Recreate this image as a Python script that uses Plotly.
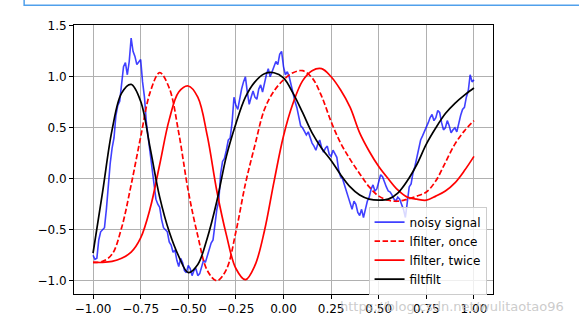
import plotly.graph_objects as go

# x positions for smooth curves (step 0.05) and noisy signal (step 0.01)
t_smooth = [round(-1 + 0.05 * i, 2) for i in range(41)]
t_noisy = [round(-1 + 0.01 * i, 2) for i in range(201)]

noisy = [-0.75, -0.79, -0.78, -0.60, -0.52, -0.50, -0.48, -0.30, -0.05, 0.15,
         0.30, 0.40, 0.62, 0.72, 0.76, 0.95, 1.10, 1.14, 1.02, 1.15,
         1.38, 1.25, 1.20, 1.12, 1.15, 1.17, 0.95, 0.80, 0.55, 0.40,
         0.25, 0.05, -0.10, -0.20, -0.25, -0.28, -0.40, -0.48, -0.50, -0.52,
         -0.62, -0.65, -0.72, -0.70, -0.80, -0.86, -0.78, -0.82, -0.90, -0.92,
         -0.85, -0.88, -0.95, -0.90, -0.88, -0.95, -0.93, -0.85, -0.80, -0.82,
         -0.75, -0.70, -0.63, -0.60, -0.45, -0.30, -0.22, 0.05, 0.17, 0.20,
         0.28, 0.38, 0.40, 0.55, 0.80, 0.72, 0.68, 0.80, 0.88, 0.95,
         1.00, 0.85, 0.73, 0.80, 0.86, 0.80, 0.78, 0.88, 0.92, 0.85,
         0.95, 1.02, 1.08, 1.00, 1.05, 1.10, 1.15, 1.12, 1.22, 1.25,
         1.10, 1.02, 1.05, 1.00, 0.92, 0.82, 0.76, 0.70, 0.60, 0.52,
         0.50, 0.46, 0.43, 0.46, 0.40, 0.35, 0.32, 0.28, 0.34, 0.38,
         0.31, 0.26, 0.30, 0.32, 0.24, 0.22, 0.28, 0.25, 0.21, 0.08,
         0.02, 0.00, -0.05, -0.12, -0.18, -0.25, -0.30, -0.22, -0.25, -0.33,
         -0.36, -0.30, -0.38, -0.30, -0.22, -0.18, -0.10, -0.06, -0.12, -0.10,
         -0.02, 0.04, 0.02, -0.04, -0.08, -0.12, -0.13, -0.16, -0.20, -0.22,
         -0.18, -0.20, -0.25, -0.30, -0.38, -0.22, -0.08, -0.05, 0.06, 0.12,
         0.20, 0.30, 0.38, 0.42, 0.46, 0.50, 0.55, 0.60, 0.63, 0.57,
         0.60, 0.67, 0.65, 0.55, 0.48, 0.50, 0.57, 0.52, 0.45, 0.48,
         0.50, 0.46, 0.55, 0.62, 0.68, 0.70, 0.80, 0.86, 1.02, 0.95,
         0.97]

lfilter_once = [-0.82, -0.81, -0.74, -0.48, -0.06, 0.41, 0.85, 1.04, 0.89, 0.45,
                -0.12, -0.56, -0.90, -1.00, -0.89, -0.52, -0.05, 0.33, 0.68, 0.86,
                0.97, 1.04, 1.06, 0.99, 0.81, 0.56, 0.35, 0.19, 0.05, -0.08,
                -0.17, -0.21, -0.22, -0.20, -0.17, -0.13, -0.02, 0.16, 0.34, 0.47, 0.57]

lfilter_twice = [-0.82, -0.82, -0.81, -0.78, -0.72, -0.58, -0.29, 0.14, 0.58, 0.85,
                 0.91, 0.80, 0.42, -0.12, -0.55, -0.88, -0.99, -0.85, -0.51, -0.03,
                 0.42, 0.74, 0.96, 1.06, 1.08, 1.00, 0.87, 0.70, 0.45, 0.27,
                 0.12, 0.00, -0.11, -0.18, -0.20, -0.21, -0.17, -0.12, -0.04, 0.08, 0.22]

filtfilt = [-0.73, -0.13, 0.48, 0.84, 0.925, 0.76, 0.30, -0.18, -0.52, -0.76,
            -0.92, -0.84, -0.58, -0.22, 0.22, 0.54, 0.80, 0.95, 1.03, 1.04,
            0.99, 0.84, 0.65, 0.45, 0.30, 0.18, 0.04, -0.08, -0.16, -0.20,
            -0.21, -0.20, -0.14, -0.02, 0.14, 0.34, 0.50, 0.64, 0.74, 0.82, 0.89]

x_ticks = [-1.0, -0.75, -0.5, -0.25, 0.0, 0.25, 0.5, 0.75, 1.0]
x_ticktext = ["\u22121.00", "\u22120.75", "\u22120.50", "\u22120.25", "0.00", "0.25", "0.50", "0.75", "1.00"]
y_ticks = [-1.0, -0.5, 0.0, 0.5, 1.0, 1.5]
y_ticktext = ["\u22121.0", "\u22120.5", "0.0", "0.5", "1.0", "1.5"]

FONT = "DejaVu Sans"

fig = go.Figure()
fig.add_trace(go.Scatter(x=t_noisy, y=noisy, mode="lines", name="noisy signal",
                         line=dict(color="rgba(0,0,255,0.75)", width=1.6)))
fig.add_trace(go.Scatter(x=t_smooth, y=lfilter_once, mode="lines", name="lfilter, once",
                         line=dict(color="red", width=1.7, dash="5.5px,2.5px", shape="spline")))
fig.add_trace(go.Scatter(x=t_smooth, y=lfilter_twice, mode="lines", name="lfilter, twice",
                         line=dict(color="red", width=1.7, shape="spline")))
fig.add_trace(go.Scatter(x=t_smooth, y=filtfilt, mode="lines", name="filtfilt",
                         line=dict(color="black", width=1.7, shape="spline")))

axis_common = dict(showline=True, mirror=True, linecolor="black", linewidth=1,
                   showgrid=True, gridcolor="#b0b0b0", gridwidth=1, zeroline=False,
                   ticks="outside", ticklen=4, tickcolor="black", tickwidth=1,
                   tickfont=dict(family=FONT, size=12, color="black"))

fig.update_xaxes(range=[-1.1, 1.1], tickvals=x_ticks, ticktext=x_ticktext, **axis_common)
fig.update_yaxes(range=[-1.13, 1.508], tickvals=y_ticks, ticktext=y_ticktext, **axis_common)

fig.update_layout(
    width=579, height=328,
    margin=dict(l=74, r=86, t=25, b=31),
    paper_bgcolor="white", plot_bgcolor="white",
    font=dict(family=FONT, size=12, color="black"),
    legend=dict(x=0.703, y=0.325, xanchor="left", yanchor="top",
                bgcolor="rgba(255,255,255,0.8)", bordercolor="#cccccc", borderwidth=1,
                font=dict(family=FONT, size=12, color="black"),
                itemwidth=30, tracegroupgap=0),
    shapes=[dict(type="path", xref="paper", yref="paper",
                 path="M -0.119,1.12 L -0.119,1.0735 L 1.3,1.0735",
                 line=dict(color="rgb(80,160,235)", width=1.5))],
    annotations=[dict(text="https://blog.csdn.net/wulitaotao96", xref="paper", yref="paper",
                      x=0.902, y=-0.048, xanchor="center", yanchor="middle", showarrow=False,
                      font=dict(family=FONT, size=13, color="rgba(190,190,190,0.8)"))],
)

fig.write_html("out.html")
